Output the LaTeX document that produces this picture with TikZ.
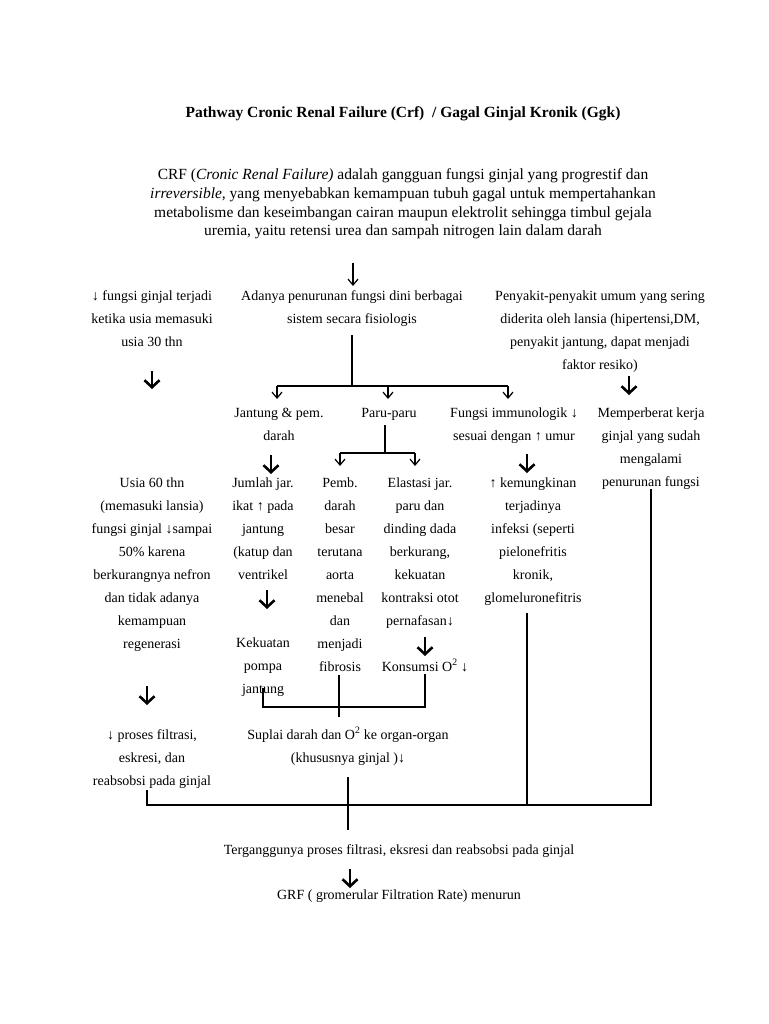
\documentclass[tikz,border=0pt]{standalone}
\usepackage{fontspec}
\setmainfont{Liberation Serif}
\usetikzlibrary{arrows.meta}

\begin{document}
\begin{tikzpicture}[x = 1pt, y = -1pt,
    every node/.style = {align = center, inner sep = 0pt, anchor = base,
        font = \fontsize{14}{23}\selectfont},
    bracket/.style = {line width = 2.4pt},
    bigarrow/.style = {line width = 2.6pt, -{Straight Barb[length = 7pt, width = 15pt]}},
    smallarrow/.style = {line width = 1.2pt, -{Straight Barb[length = 6pt, width = 10pt]}},
    textarrow/.style = {line width = 1.2pt, -{Straight Barb[length = 6pt, width = 10pt]}}]
    \fill[white] (0, 0) rectangle (768, 1024);
    \useasboundingbox (0, 0) rectangle (768, 1024);

    % heading (nodes sit on the baseline of their last line)
    \node[font = \bfseries\fontsize{15.5}{23}\selectfont] (title) at (403, 118)
        {Pathway Cronic Renal Failure (Crf)\ \ / Gagal Ginjal Kronik (Ggk)};
    \node[font = \fontsize{15.5}{18.7}\selectfont] (crf) at (403, 236)
        {CRF (\textit{Cronic Renal Failure)} adalah gangguan fungsi ginjal yang progrestif dan\\
        \textit{irreversible,} yang menyebabkan kemampuan tubuh gagal untuk mempertahankan\\
        metabolisme dan keseimbangan cairan maupun elektrolit sehingga timbul gejala\\
        uremia, yaitu retensi urea dan sampah nitrogen lain dalam darah};

    % first row
    \node (usia30) at (152, 346) {↓ fungsi ginjal terjadi\\ ketika usia memasuki\\ usia 30 thn};
    \node (dini) at (352, 323) {Adanya penurunan fungsi dini berbagai\\ sistem secara fisiologis};
    \node (penyakit) at (600, 369) {Penyakit-penyakit umum yang sering\\
        diderita oleh lansia (hipertensi,DM,\\ penyakit jantung, dapat menjadi\\ faktor resiko)};

    % second row
    \node (jantung) at (279, 440) {Jantung \& pem.\\ darah};
    \node (paru) at (389, 417) {Paru-paru};
    \node (imun) at (514, 440) {Fungsi immunologik ↓\\ sesuai dengan ↑ umur};
    \node (berat) at (651, 486) {Memperberat kerja\\ ginjal yang sudah\\ mengalami\\ penurunan fungsi};

    % third row
    \node (usia60) at (152, 648) {Usia 60 thn\\ (memasuki lansia)\\ fungsi ginjal ↓sampai\\
        50\% karena\\ berkurangnya nefron\\ dan tidak adanya\\ kemampuan\\ regenerasi};
    \node (jarikat) at (263, 579) {Jumlah jar.\\ ikat ↑ pada\\ jantung\\ (katup dan\\ ventrikel};
    \node (pompa) at (263, 693) {Kekuatan\\ pompa\\ jantung};
    \node (aorta) at (340, 671) {Pemb.\\ darah\\ besar\\ terutana\\ aorta\\ menebal\\ dan\\ menjadi\\ fibrosis};
    \node (elastasi) at (420, 625) {Elastasi jar.\\ paru dan\\ dinding dada\\ berkurang,\\
        kekuatan\\ kontraksi otot\\ pernafasan↓};
    \node (konsumsi) at (425, 671) {Konsumsi O\textsuperscript{2} ↓};
    \node (infeksi) at (533, 602) {↑ kemungkinan\\ terjadinya\\ infeksi (seperti\\ pielonefritis\\
        kronik,\\ glomeluronefitris};

    % bottom
    \node (filtrasi) at (152, 785) {↓ proses filtrasi,\\ eskresi, dan\\ reabsobsi pada ginjal};
    \node (suplai) at (348, 762) {Suplai darah dan O\textsuperscript{2} ke organ-organ\\ (khususnya ginjal )↓};
    \node (ganggu) at (399, 854) {Terganggunya proses filtrasi, eksresi dan reabsobsi pada ginjal};
    \node (grf) at (399, 899) {GRF ( gromerular Filtration Rate) menurun};

    % arrows
    \foreach \n/\x/\ya/\yb in {a/152/371/389, b/629/376/395, c/271/455/474, d/527/454/473,
        e/267/590/609, f/425/637/656, g/147/686/705, h/350/869/888} {
        \coordinate (\n1) at (\x, \ya);
        \coordinate (\n2) at (\x, \yb);
        \draw[bigarrow] (\n1) -- (\n2);
    }
    \coordinate (crf1) at (353, 263);
    \coordinate (crf2) at (353, 286);
    \draw[textarrow] (crf1) -- (crf2);

    % branches
    \coordinate (dinifork) at (352, 386);
    \coordinate (parufork) at (385, 453);
    \draw[bracket] (352, 335) -- (dinifork);
    \draw[bracket] (277, 386) -- (508, 386);
    \draw[bracket] (385, 425) -- (parufork);
    \draw[bracket] (340, 453) -- (415, 453);
    \foreach \n/\x/\ya/\yb in {s/277/386/399, t/388/386/399, u/508/386/399,
        v/340/453/466, w/415/453/466} {
        \coordinate (\n1) at (\x, \ya);
        \coordinate (\n2) at (\x, \yb);
        \draw[smallarrow] (\n1) -- (\n2);
    }

    % joins
    \draw[bracket] (263, 688) -- (263, 707) -- (425, 707) -- (425, 674);
    \draw[bracket] (339, 675) -- (339, 717);
    \draw[bracket] (348, 777) -- (348, 830);
    \draw[bracket] (147, 790) -- (147, 805) -- (651, 805) -- (651, 489);
    \draw[bracket] (527, 613) -- (527, 805);
\end{tikzpicture}
\end{document}
